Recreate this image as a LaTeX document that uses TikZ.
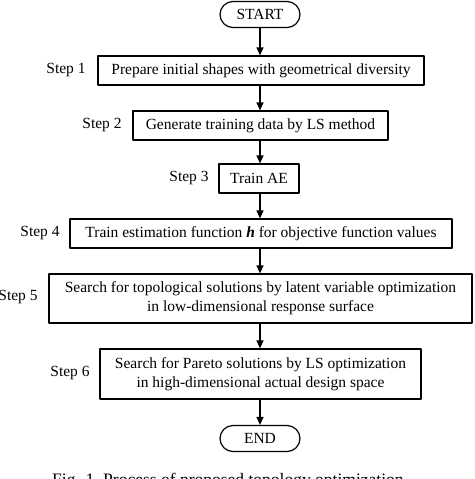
\documentclass[tikz,border=0pt]{standalone}
\usepackage{fontspec}
\setmainfont{Liberation Serif}
\usetikzlibrary{arrows.meta}
\tikzset{
	stepbox/.style={draw, line width=1.2pt, minimum height=29pt, inner xsep=4pt, align=center},
	termbox/.style={draw, line width=1.2pt, rounded corners=13pt, minimum width=80pt, minimum height=26pt},
	steplabel/.style={inner sep=0pt}
}
\begin{document}
\begin{tikzpicture}[x=1pt,y=-1pt,>={Triangle[length=8pt,width=7pt]}, font=\fontsize{15.5}{19}\selectfont, line join=round]
	\useasboundingbox (0,0) rectangle (474,479);
	\node[termbox] (start) at (260,14.5) {START};
	\node[stepbox, minimum width=326pt] (s1) at (261,70.5) {Prepare initial shapes with geometrical diversity};
	\node[stepbox, minimum width=255pt] (s2) at (260.5,125.5) {Generate training data by LS method};
	\node[stepbox, minimum width=80pt] (s3) at (259,178.5) {Train AE};
	\node[stepbox, minimum width=382pt] (s4) at (261,233.5) {Train estimation function \textbf{\textit{h}} for objective function values};
	\node[stepbox, minimum width=423pt, minimum height=49pt] (s5) at (260.5,298.5) {Search for topological solutions by latent variable optimization\\in low-dimensional response surface};
	\node[stepbox, minimum width=321pt, minimum height=50pt] (s6) at (260.5,374) {Search for Pareto solutions by LS optimization\\in high-dimensional actual design space};
	\node[termbox] (end) at (260,438.5) {END};
	% step labels
	\node[steplabel] at (66,70) {Step 1};
	\node[steplabel] at (102,125) {Step 2};
	\node[steplabel] at (189,178) {Step 3};
	\node[steplabel] at (40,233) {Step 4};
	\node[steplabel] at (18,297) {Step 5};
	\node[steplabel] at (70,373) {Step 6};
	\draw[->, line width=1.2pt] (start) -- (start |- s1.north);
	\draw[->, line width=1.2pt] (start |- s1.south) -- (start |- s2.north);
	\draw[->, line width=1.2pt] (start |- s2.south) -- (start |- s3.north);
	\draw[->, line width=1.2pt] (start |- s3.south) -- (start |- s4.north);
	\draw[->, line width=1.2pt] (start |- s4.south) -- (start |- s5.north);
	\draw[->, line width=1.2pt] (start |- s5.south) -- (start |- s6.north);
	\draw[->, line width=1.2pt] (start |- s6.south) -- (end);
	\node[anchor=base west, inner sep=0pt, font=\fontsize{17.5}{21}\selectfont] (caption) at (52,485) {Fig. 1\ \ Process of proposed topology optimization};
\end{tikzpicture}
\end{document}
